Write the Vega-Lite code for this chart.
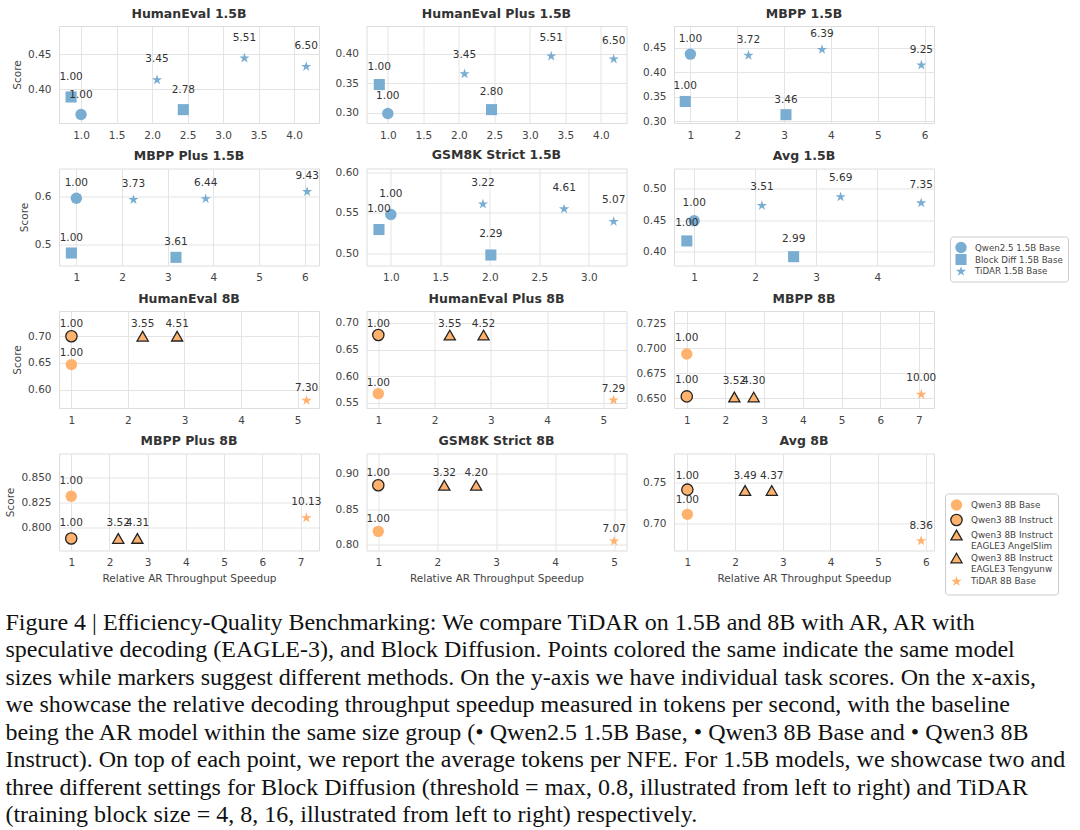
{
  "$schema": "https://vega.github.io/schema/vega-lite/v6.json",
  "padding": {"left": 5, "top": 7, "right": 5, "bottom": 3},
  "background": "white",
  "datasets": {
    "d": [
      {"panel": "HumanEval 1.5B", "method": "Qwen2.5 1.5B Base", "x": 1.0, "y": 0.364, "label": "1.00"},
      {"panel": "HumanEval 1.5B", "method": "Block Diff 1.5B Base", "x": 0.86, "y": 0.389, "label": "1.00"},
      {"panel": "HumanEval 1.5B", "method": "Block Diff 1.5B Base", "x": 2.44, "y": 0.371, "label": "2.78"},
      {"panel": "HumanEval 1.5B", "method": "TiDAR 1.5B Base", "x": 2.07, "y": 0.414, "label": "3.45"},
      {"panel": "HumanEval 1.5B", "method": "TiDAR 1.5B Base", "x": 3.30, "y": 0.445, "label": "5.51"},
      {"panel": "HumanEval 1.5B", "method": "TiDAR 1.5B Base", "x": 4.17, "y": 0.433, "label": "6.50"},

      {"panel": "HumanEval Plus 1.5B", "method": "Qwen2.5 1.5B Base", "x": 1.0, "y": 0.299, "label": "1.00"},
      {"panel": "HumanEval Plus 1.5B", "method": "Block Diff 1.5B Base", "x": 0.88, "y": 0.348, "label": "1.00"},
      {"panel": "HumanEval Plus 1.5B", "method": "Block Diff 1.5B Base", "x": 2.46, "y": 0.3056, "label": "2.80"},
      {"panel": "HumanEval Plus 1.5B", "method": "TiDAR 1.5B Base", "x": 2.08, "y": 0.367, "label": "3.45"},
      {"panel": "HumanEval Plus 1.5B", "method": "TiDAR 1.5B Base", "x": 3.30, "y": 0.397, "label": "5.51"},
      {"panel": "HumanEval Plus 1.5B", "method": "TiDAR 1.5B Base", "x": 4.18, "y": 0.392, "label": "6.50"},

      {"panel": "MBPP 1.5B", "method": "Qwen2.5 1.5B Base", "x": 1.0, "y": 0.4366, "label": "1.00"},
      {"panel": "MBPP 1.5B", "method": "Block Diff 1.5B Base", "x": 0.89, "y": 0.340, "label": "1.00"},
      {"panel": "MBPP 1.5B", "method": "Block Diff 1.5B Base", "x": 3.04, "y": 0.313, "label": "3.46"},
      {"panel": "MBPP 1.5B", "method": "TiDAR 1.5B Base", "x": 2.24, "y": 0.435, "label": "3.72"},
      {"panel": "MBPP 1.5B", "method": "TiDAR 1.5B Base", "x": 3.81, "y": 0.447, "label": "6.39"},
      {"panel": "MBPP 1.5B", "method": "TiDAR 1.5B Base", "x": 5.93, "y": 0.415, "label": "9.25"},

      {"panel": "MBPP Plus 1.5B", "method": "Qwen2.5 1.5B Base", "x": 1.0, "y": 0.597, "label": "1.00"},
      {"panel": "MBPP Plus 1.5B", "method": "Block Diff 1.5B Base", "x": 0.89, "y": 0.483, "label": "1.00"},
      {"panel": "MBPP Plus 1.5B", "method": "Block Diff 1.5B Base", "x": 3.18, "y": 0.474, "label": "3.61"},
      {"panel": "MBPP Plus 1.5B", "method": "TiDAR 1.5B Base", "x": 2.25, "y": 0.595, "label": "3.73"},
      {"panel": "MBPP Plus 1.5B", "method": "TiDAR 1.5B Base", "x": 3.83, "y": 0.597, "label": "6.44"},
      {"panel": "MBPP Plus 1.5B", "method": "TiDAR 1.5B Base", "x": 6.05, "y": 0.612, "label": "9.43"},

      {"panel": "GSM8K Strict 1.5B", "method": "Qwen2.5 1.5B Base", "x": 1.0, "y": 0.548, "label": "1.00"},
      {"panel": "GSM8K Strict 1.5B", "method": "Block Diff 1.5B Base", "x": 0.88, "y": 0.5295, "label": "1.00"},
      {"panel": "GSM8K Strict 1.5B", "method": "Block Diff 1.5B Base", "x": 2.01, "y": 0.498, "label": "2.29"},
      {"panel": "GSM8K Strict 1.5B", "method": "TiDAR 1.5B Base", "x": 1.93, "y": 0.5615, "label": "3.22"},
      {"panel": "GSM8K Strict 1.5B", "method": "TiDAR 1.5B Base", "x": 2.75, "y": 0.5555, "label": "4.61"},
      {"panel": "GSM8K Strict 1.5B", "method": "TiDAR 1.5B Base", "x": 3.25, "y": 0.540, "label": "5.07"},

      {"panel": "Avg 1.5B", "method": "Qwen2.5 1.5B Base", "x": 1.0, "y": 0.449, "label": "1.00"},
      {"panel": "Avg 1.5B", "method": "Block Diff 1.5B Base", "x": 0.88, "y": 0.417, "label": "1.00"},
      {"panel": "Avg 1.5B", "method": "Block Diff 1.5B Base", "x": 2.63, "y": 0.392, "label": "2.99"},
      {"panel": "Avg 1.5B", "method": "TiDAR 1.5B Base", "x": 2.11, "y": 0.474, "label": "3.51"},
      {"panel": "Avg 1.5B", "method": "TiDAR 1.5B Base", "x": 3.40, "y": 0.4876, "label": "5.69"},
      {"panel": "Avg 1.5B", "method": "TiDAR 1.5B Base", "x": 4.72, "y": 0.478, "label": "7.35"},

      {"panel": "HumanEval 8B", "method": "Qwen3 8B Base", "x": 1.0, "y": 0.647, "label": "1.00"},
      {"panel": "HumanEval 8B", "method": "Qwen3 8B Instruct", "x": 1.0, "y": 0.700, "label": "1.00"},
      {"panel": "HumanEval 8B", "method": "Qwen3 8B Instruct EAGLE3 AngelSlim", "x": 2.26, "y": 0.700, "label": "3.55"},
      {"panel": "HumanEval 8B", "method": "Qwen3 8B Instruct EAGLE3 Tengyunw", "x": 2.87, "y": 0.700, "label": "4.51"},
      {"panel": "HumanEval 8B", "method": "TiDAR 8B Base", "x": 5.16, "y": 0.581, "label": "7.30"},

      {"panel": "HumanEval Plus 8B", "method": "Qwen3 8B Base", "x": 1.0, "y": 0.5675, "label": "1.00"},
      {"panel": "HumanEval Plus 8B", "method": "Qwen3 8B Instruct", "x": 1.0, "y": 0.677, "label": "1.00"},
      {"panel": "HumanEval Plus 8B", "method": "Qwen3 8B Instruct EAGLE3 AngelSlim", "x": 2.27, "y": 0.677, "label": "3.55"},
      {"panel": "HumanEval Plus 8B", "method": "Qwen3 8B Instruct EAGLE3 Tengyunw", "x": 2.87, "y": 0.677, "label": "4.52"},
      {"panel": "HumanEval Plus 8B", "method": "TiDAR 8B Base", "x": 5.18, "y": 0.5563, "label": "7.29"},

      {"panel": "MBPP 8B", "method": "Qwen3 8B Base", "x": 1.0, "y": 0.694, "label": "1.00"},
      {"panel": "MBPP 8B", "method": "Qwen3 8B Instruct", "x": 1.0, "y": 0.6516, "label": "1.00"},
      {"panel": "MBPP 8B", "method": "Qwen3 8B Instruct EAGLE3 AngelSlim", "x": 2.23, "y": 0.651, "label": "3.52"},
      {"panel": "MBPP 8B", "method": "Qwen3 8B Instruct EAGLE3 Tengyunw", "x": 2.73, "y": 0.651, "label": "4.30"},
      {"panel": "MBPP 8B", "method": "TiDAR 8B Base", "x": 7.06, "y": 0.654, "label": "10.00"},

      {"panel": "MBPP Plus 8B", "method": "Qwen3 8B Base", "x": 1.0, "y": 0.831, "label": "1.00"},
      {"panel": "MBPP Plus 8B", "method": "Qwen3 8B Instruct", "x": 1.0, "y": 0.789, "label": "1.00"},
      {"panel": "MBPP Plus 8B", "method": "Qwen3 8B Instruct EAGLE3 AngelSlim", "x": 2.23, "y": 0.789, "label": "3.52"},
      {"panel": "MBPP Plus 8B", "method": "Qwen3 8B Instruct EAGLE3 Tengyunw", "x": 2.73, "y": 0.789, "label": "4.31"},
      {"panel": "MBPP Plus 8B", "method": "TiDAR 8B Base", "x": 7.15, "y": 0.810, "label": "10.13"},

      {"panel": "GSM8K Strict 8B", "method": "Qwen3 8B Base", "x": 1.0, "y": 0.8187, "label": "1.00"},
      {"panel": "GSM8K Strict 8B", "method": "Qwen3 8B Instruct", "x": 1.0, "y": 0.884, "label": "1.00"},
      {"panel": "GSM8K Strict 8B", "method": "Qwen3 8B Instruct EAGLE3 AngelSlim", "x": 2.12, "y": 0.884, "label": "3.32"},
      {"panel": "GSM8K Strict 8B", "method": "Qwen3 8B Instruct EAGLE3 Tengyunw", "x": 2.66, "y": 0.884, "label": "4.20"},
      {"panel": "GSM8K Strict 8B", "method": "TiDAR 8B Base", "x": 5.0, "y": 0.8056, "label": "7.07"},

      {"panel": "Avg 8B", "method": "Qwen3 8B Base", "x": 1.0, "y": 0.711, "label": "1.00"},
      {"panel": "Avg 8B", "method": "Qwen3 8B Instruct", "x": 1.0, "y": 0.741, "label": "1.00"},
      {"panel": "Avg 8B", "method": "Qwen3 8B Instruct EAGLE3 AngelSlim", "x": 2.21, "y": 0.740, "label": "3.49"},
      {"panel": "Avg 8B", "method": "Qwen3 8B Instruct EAGLE3 Tengyunw", "x": 2.77, "y": 0.740, "label": "4.37"},
      {"panel": "Avg 8B", "method": "TiDAR 8B Base", "x": 5.90, "y": 0.6794, "label": "8.36"}
    ]
  },
  "data": {"name": "d"},
  "title": {
    "text": [
      "Figure 4 | Efficiency-Quality Benchmarking: We compare TiDAR on 1.5B and 8B with AR, AR with",
      "speculative decoding (EAGLE-3), and Block Diffusion. Points colored the same indicate the same model",
      "sizes while markers suggest different methods. On the y-axis we have individual task scores. On the x-axis,",
      "we showcase the relative decoding throughput speedup measured in tokens per second, with the baseline",
      "being the AR model within the same size group (• Qwen2.5 1.5B Base, • Qwen3 8B Base and • Qwen3 8B",
      "Instruct). On top of each point, we report the average tokens per NFE. For 1.5B models, we showcase two and",
      "three different settings for Block Diffusion (threshold = max, 0.8, illustrated from left to right) and TiDAR",
      "(training block size = 4, 8, 16, illustrated from left to right) respectively."
    ],
    "orient": "bottom",
    "anchor": "start",
    "font": "Liberation Serif",
    "fontSize": 24,
    "fontWeight": "normal",
    "color": "#111111",
    "lineHeight": 27.5,
    "offset": 15
  },
  "columns": 3,
  "spacing": {"row": 45.5, "column": 47.5},
  "bounds": "flush",
  "concat": [
        {
          "title": "HumanEval 1.5B", "width": 260, "height": 97,
          "transform": [{"filter": "datum.panel == 'HumanEval 1.5B'"}],
          "layer": [
            {"mark": {"type": "point", "filled": true, "opacity": 1, "strokeWidth": 0},
             "encoding": {
               "x": {"field": "x", "type": "quantitative", "scale": {"domain": [0.69, 4.35], "nice": false, "zero": false}, "axis": {"values": [1, 1.5, 2, 2.5, 3, 3.5, 4], "format": ".1f", "title": null, "tickCount": 20}},
               "y": {"field": "y", "type": "quantitative", "scale": {"domain": [0.352, 0.49], "nice": false, "zero": false}, "axis": {"values": [0.40, 0.45], "format": ".2f", "title": "Score", "tickCount": 20}},
               "color": {"field": "method", "type": "nominal", "scale": {"domain": ["Qwen2.5 1.5B Base", "Block Diff 1.5B Base", "TiDAR 1.5B Base"], "range": ["#79add2", "#79add2", "#79add2"]}, "legend": null},
               "shape": {"field": "method", "type": "nominal", "scale": {"domain": ["Qwen2.5 1.5B Base", "Block Diff 1.5B Base", "TiDAR 1.5B Base"], "range": ["circle", "square", "M0,-0.905L0.2245,-0.214L0.9511,-0.214L0.3633,0.213L0.5878,0.904L0,0.477L-0.5878,0.904L-0.3633,0.213L-0.9511,-0.214L-0.2245,-0.214Z"]}, "legend": null},
               "size": {"field": "method", "type": "nominal", "scale": {"domain": ["Qwen2.5 1.5B Base", "Block Diff 1.5B Base", "TiDAR 1.5B Base"], "range": [130, 115, 230]}, "legend": null}
             }},
            {"mark": {"type": "text", "dy": -20, "fontSize": 10.5, "font": "DejaVu Sans", "color": "#333333", "baseline": "middle"},
             "encoding": {"x": {"field": "x", "type": "quantitative"}, "y": {"field": "y", "type": "quantitative"}, "text": {"field": "label"}}}
          ]
        },
        {
          "title": "HumanEval Plus 1.5B", "width": 260, "height": 97,
          "transform": [{"filter": "datum.panel == 'HumanEval Plus 1.5B'"}],
          "layer": [
            {"mark": {"type": "point", "filled": true, "opacity": 1, "strokeWidth": 0},
             "encoding": {
               "x": {"field": "x", "type": "quantitative", "scale": {"domain": [0.70, 4.36], "nice": false, "zero": false}, "axis": {"values": [1, 1.5, 2, 2.5, 3, 3.5, 4], "format": ".1f", "title": null, "tickCount": 20}},
               "y": {"field": "y", "type": "quantitative", "scale": {"domain": [0.283, 0.447], "nice": false, "zero": false}, "axis": {"values": [0.30, 0.35, 0.40], "format": ".2f", "title": null, "tickCount": 20}},
               "color": {"field": "method", "type": "nominal", "scale": {"domain": ["Qwen2.5 1.5B Base", "Block Diff 1.5B Base", "TiDAR 1.5B Base"], "range": ["#79add2", "#79add2", "#79add2"]}, "legend": null},
               "shape": {"field": "method", "type": "nominal", "scale": {"domain": ["Qwen2.5 1.5B Base", "Block Diff 1.5B Base", "TiDAR 1.5B Base"], "range": ["circle", "square", "M0,-0.905L0.2245,-0.214L0.9511,-0.214L0.3633,0.213L0.5878,0.904L0,0.477L-0.5878,0.904L-0.3633,0.213L-0.9511,-0.214L-0.2245,-0.214Z"]}, "legend": null},
               "size": {"field": "method", "type": "nominal", "scale": {"domain": ["Qwen2.5 1.5B Base", "Block Diff 1.5B Base", "TiDAR 1.5B Base"], "range": [130, 115, 230]}, "legend": null}
             }},
            {"mark": {"type": "text", "dy": -18, "fontSize": 10.5, "font": "DejaVu Sans", "color": "#333333", "baseline": "middle"},
             "encoding": {"x": {"field": "x", "type": "quantitative"}, "y": {"field": "y", "type": "quantitative"}, "text": {"field": "label"}}}
          ]
        },
        {
          "title": "MBPP 1.5B", "width": 260, "height": 97,
          "transform": [{"filter": "datum.panel == 'MBPP 1.5B'"}],
          "layer": [
            {"mark": {"type": "point", "filled": true, "opacity": 1, "strokeWidth": 0},
             "encoding": {
               "x": {"field": "x", "type": "quantitative", "scale": {"domain": [0.65, 6.2], "nice": false, "zero": false}, "axis": {"values": [1, 2, 3, 4, 5, 6], "format": "d", "title": null, "tickCount": 20}},
               "y": {"field": "y", "type": "quantitative", "scale": {"domain": [0.296, 0.494], "nice": false, "zero": false}, "axis": {"values": [0.30, 0.35, 0.40, 0.45], "format": ".2f", "title": null, "tickCount": 20}},
               "color": {"field": "method", "type": "nominal", "scale": {"domain": ["Qwen2.5 1.5B Base", "Block Diff 1.5B Base", "TiDAR 1.5B Base"], "range": ["#79add2", "#79add2", "#79add2"]}, "legend": null},
               "shape": {"field": "method", "type": "nominal", "scale": {"domain": ["Qwen2.5 1.5B Base", "Block Diff 1.5B Base", "TiDAR 1.5B Base"], "range": ["circle", "square", "M0,-0.905L0.2245,-0.214L0.9511,-0.214L0.3633,0.213L0.5878,0.904L0,0.477L-0.5878,0.904L-0.3633,0.213L-0.9511,-0.214L-0.2245,-0.214Z"]}, "legend": null},
               "size": {"field": "method", "type": "nominal", "scale": {"domain": ["Qwen2.5 1.5B Base", "Block Diff 1.5B Base", "TiDAR 1.5B Base"], "range": [130, 115, 230]}, "legend": null}
             }},
            {"mark": {"type": "text", "dy": -15, "fontSize": 10.5, "font": "DejaVu Sans", "color": "#333333", "baseline": "middle"},
             "encoding": {"x": {"field": "x", "type": "quantitative"}, "y": {"field": "y", "type": "quantitative"}, "text": {"field": "label"}}}
          ]
        },
        {
          "title": "MBPP Plus 1.5B", "width": 260, "height": 97,
          "transform": [{"filter": "datum.panel == 'MBPP Plus 1.5B'"}],
          "layer": [
            {"mark": {"type": "point", "filled": true, "opacity": 1, "strokeWidth": 0},
             "encoding": {
               "x": {"field": "x", "type": "quantitative", "scale": {"domain": [0.62, 6.31], "nice": false, "zero": false}, "axis": {"values": [1, 2, 3, 4, 5, 6], "format": "d", "title": null, "tickCount": 20}},
               "y": {"field": "y", "type": "quantitative", "scale": {"domain": [0.457, 0.659], "nice": false, "zero": false}, "axis": {"values": [0.5, 0.6], "format": ".1f", "title": "Score", "tickCount": 20}},
               "color": {"field": "method", "type": "nominal", "scale": {"domain": ["Qwen2.5 1.5B Base", "Block Diff 1.5B Base", "TiDAR 1.5B Base"], "range": ["#79add2", "#79add2", "#79add2"]}, "legend": null},
               "shape": {"field": "method", "type": "nominal", "scale": {"domain": ["Qwen2.5 1.5B Base", "Block Diff 1.5B Base", "TiDAR 1.5B Base"], "range": ["circle", "square", "M0,-0.905L0.2245,-0.214L0.9511,-0.214L0.3633,0.213L0.5878,0.904L0,0.477L-0.5878,0.904L-0.3633,0.213L-0.9511,-0.214L-0.2245,-0.214Z"]}, "legend": null},
               "size": {"field": "method", "type": "nominal", "scale": {"domain": ["Qwen2.5 1.5B Base", "Block Diff 1.5B Base", "TiDAR 1.5B Base"], "range": [130, 115, 230]}, "legend": null}
             }},
            {"mark": {"type": "text", "dy": -15, "fontSize": 10.5, "font": "DejaVu Sans", "color": "#333333", "baseline": "middle"},
             "encoding": {"x": {"field": "x", "type": "quantitative"}, "y": {"field": "y", "type": "quantitative"}, "text": {"field": "label"}}}
          ]
        },
        {
          "title": "GSM8K Strict 1.5B", "width": 260, "height": 97,
          "transform": [{"filter": "datum.panel == 'GSM8K Strict 1.5B'"}],
          "layer": [
            {"mark": {"type": "point", "filled": true, "opacity": 1, "strokeWidth": 0},
             "encoding": {
               "x": {"field": "x", "type": "quantitative", "scale": {"domain": [0.754, 3.38], "nice": false, "zero": false}, "axis": {"values": [1, 1.5, 2, 2.5, 3], "format": ".1f", "title": null, "tickCount": 20}},
               "y": {"field": "y", "type": "quantitative", "scale": {"domain": [0.485, 0.605], "nice": false, "zero": false}, "axis": {"values": [0.50, 0.55, 0.60], "format": ".2f", "title": null, "tickCount": 20}},
               "color": {"field": "method", "type": "nominal", "scale": {"domain": ["Qwen2.5 1.5B Base", "Block Diff 1.5B Base", "TiDAR 1.5B Base"], "range": ["#79add2", "#79add2", "#79add2"]}, "legend": null},
               "shape": {"field": "method", "type": "nominal", "scale": {"domain": ["Qwen2.5 1.5B Base", "Block Diff 1.5B Base", "TiDAR 1.5B Base"], "range": ["circle", "square", "M0,-0.905L0.2245,-0.214L0.9511,-0.214L0.3633,0.213L0.5878,0.904L0,0.477L-0.5878,0.904L-0.3633,0.213L-0.9511,-0.214L-0.2245,-0.214Z"]}, "legend": null},
               "size": {"field": "method", "type": "nominal", "scale": {"domain": ["Qwen2.5 1.5B Base", "Block Diff 1.5B Base", "TiDAR 1.5B Base"], "range": [130, 115, 230]}, "legend": null}
             }},
            {"mark": {"type": "text", "dy": -21, "fontSize": 10.5, "font": "DejaVu Sans", "color": "#333333", "baseline": "middle"},
             "encoding": {"x": {"field": "x", "type": "quantitative"}, "y": {"field": "y", "type": "quantitative"}, "text": {"field": "label"}}}
          ]
        },
        {
          "title": "Avg 1.5B", "width": 260, "height": 97,
          "transform": [{"filter": "datum.panel == 'Avg 1.5B'"}],
          "layer": [
            {"mark": {"type": "point", "filled": true, "opacity": 1, "strokeWidth": 0},
             "encoding": {
               "x": {"field": "x", "type": "quantitative", "scale": {"domain": [0.67, 4.93], "nice": false, "zero": false}, "axis": {"values": [1, 2, 3, 4], "format": "d", "title": null, "tickCount": 20}},
               "y": {"field": "y", "type": "quantitative", "scale": {"domain": [0.378, 0.532], "nice": false, "zero": false}, "axis": {"values": [0.40, 0.45, 0.50], "format": ".2f", "title": null, "tickCount": 20}},
               "color": {"field": "method", "type": "nominal", "scale": {"domain": ["Qwen2.5 1.5B Base", "Block Diff 1.5B Base", "TiDAR 1.5B Base"], "range": ["#79add2", "#79add2", "#79add2"]}},
               "shape": {"field": "method", "type": "nominal", "scale": {"domain": ["Qwen2.5 1.5B Base", "Block Diff 1.5B Base", "TiDAR 1.5B Base"], "range": ["circle", "square", "M0,-0.905L0.2245,-0.214L0.9511,-0.214L0.3633,0.213L0.5878,0.904L0,0.477L-0.5878,0.904L-0.3633,0.213L-0.9511,-0.214L-0.2245,-0.214Z"]},
                         "legend": {"orient": "none", "legendX": 276, "legendY": 68, "title": null, "strokeColor": "#cccccc", "cornerRadius": 3, "padding": 5, "fillColor": "white", "labelFont": "DejaVu Sans", "labelFontSize": 8.7, "labelColor": "#444444", "rowPadding": -1, "symbolStrokeWidth": 0, "labelOffset": 8}},
               "size": {"field": "method", "type": "nominal", "scale": {"domain": ["Qwen2.5 1.5B Base", "Block Diff 1.5B Base", "TiDAR 1.5B Base"], "range": [130, 115, 230]}}
             }},
            {"mark": {"type": "text", "dy": -18, "fontSize": 10.5, "font": "DejaVu Sans", "color": "#333333", "baseline": "middle"},
             "encoding": {"x": {"field": "x", "type": "quantitative"}, "y": {"field": "y", "type": "quantitative"}, "text": {"field": "label"}}}
          ]
        },
        {
          "title": "HumanEval 8B", "width": 260, "height": 97,
          "transform": [{"filter": "datum.panel == 'HumanEval 8B'"}],
          "layer": [
            {"mark": {"type": "point", "filled": true, "opacity": 1, "strokeWidth": 1.3},
             "encoding": {
               "x": {"field": "x", "type": "quantitative", "scale": {"domain": [0.78, 5.38], "nice": false, "zero": false}, "axis": {"values": [1, 2, 3, 4, 5], "format": "d", "title": null, "tickCount": 20}},
               "y": {"field": "y", "type": "quantitative", "scale": {"domain": [0.566, 0.747], "nice": false, "zero": false}, "axis": {"values": [0.60, 0.65, 0.70], "format": ".2f", "title": "Score", "tickCount": 20}},
               "color": {"field": "method", "type": "nominal", "scale": {"domain": ["Qwen3 8B Base", "Qwen3 8B Instruct", "Qwen3 8B Instruct EAGLE3 AngelSlim", "Qwen3 8B Instruct EAGLE3 Tengyunw", "TiDAR 8B Base"], "range": ["#ffb26e", "#ffb26e", "#ffb26e", "#ffb26e", "#ffb26e"]}, "legend": null},
               "stroke": {"field": "method", "type": "nominal", "scale": {"domain": ["Qwen3 8B Base", "Qwen3 8B Instruct", "Qwen3 8B Instruct EAGLE3 AngelSlim", "Qwen3 8B Instruct EAGLE3 Tengyunw", "TiDAR 8B Base"], "range": ["transparent", "#222222", "#222222", "#222222", "transparent"]}, "legend": null},
               "shape": {"field": "method", "type": "nominal", "scale": {"domain": ["Qwen3 8B Base", "Qwen3 8B Instruct", "Qwen3 8B Instruct EAGLE3 AngelSlim", "Qwen3 8B Instruct EAGLE3 Tengyunw", "TiDAR 8B Base"], "range": ["circle", "circle", "triangle-up", "triangle-up", "M0,-0.905L0.2245,-0.214L0.9511,-0.214L0.3633,0.213L0.5878,0.904L0,0.477L-0.5878,0.904L-0.3633,0.213L-0.9511,-0.214L-0.2245,-0.214Z"]}, "legend": null},
               "size": {"field": "method", "type": "nominal", "scale": {"domain": ["Qwen3 8B Base", "Qwen3 8B Instruct", "Qwen3 8B Instruct EAGLE3 AngelSlim", "Qwen3 8B Instruct EAGLE3 Tengyunw", "TiDAR 8B Base"], "range": [130, 120, 150, 150, 230]}, "legend": null}
             }},
            {"mark": {"type": "text", "dy": -12, "fontSize": 10.5, "font": "DejaVu Sans", "color": "#333333", "baseline": "middle"},
             "encoding": {"x": {"field": "x", "type": "quantitative"}, "y": {"field": "y", "type": "quantitative"}, "text": {"field": "label"}}}
          ]
        },
        {
          "title": "HumanEval Plus 8B", "width": 260, "height": 97,
          "transform": [{"filter": "datum.panel == 'HumanEval Plus 8B'"}],
          "layer": [
            {"mark": {"type": "point", "filled": true, "opacity": 1, "strokeWidth": 1.3},
             "encoding": {
               "x": {"field": "x", "type": "quantitative", "scale": {"domain": [0.79, 5.41], "nice": false, "zero": false}, "axis": {"values": [1, 2, 3, 4, 5], "format": "d", "title": null, "tickCount": 20}},
               "y": {"field": "y", "type": "quantitative", "scale": {"domain": [0.5406, 0.722], "nice": false, "zero": false}, "axis": {"values": [0.55, 0.60, 0.65, 0.70], "format": ".2f", "title": null, "tickCount": 20}},
               "color": {"field": "method", "type": "nominal", "scale": {"domain": ["Qwen3 8B Base", "Qwen3 8B Instruct", "Qwen3 8B Instruct EAGLE3 AngelSlim", "Qwen3 8B Instruct EAGLE3 Tengyunw", "TiDAR 8B Base"], "range": ["#ffb26e", "#ffb26e", "#ffb26e", "#ffb26e", "#ffb26e"]}, "legend": null},
               "stroke": {"field": "method", "type": "nominal", "scale": {"domain": ["Qwen3 8B Base", "Qwen3 8B Instruct", "Qwen3 8B Instruct EAGLE3 AngelSlim", "Qwen3 8B Instruct EAGLE3 Tengyunw", "TiDAR 8B Base"], "range": ["transparent", "#222222", "#222222", "#222222", "transparent"]}, "legend": null},
               "shape": {"field": "method", "type": "nominal", "scale": {"domain": ["Qwen3 8B Base", "Qwen3 8B Instruct", "Qwen3 8B Instruct EAGLE3 AngelSlim", "Qwen3 8B Instruct EAGLE3 Tengyunw", "TiDAR 8B Base"], "range": ["circle", "circle", "triangle-up", "triangle-up", "M0,-0.905L0.2245,-0.214L0.9511,-0.214L0.3633,0.213L0.5878,0.904L0,0.477L-0.5878,0.904L-0.3633,0.213L-0.9511,-0.214L-0.2245,-0.214Z"]}, "legend": null},
               "size": {"field": "method", "type": "nominal", "scale": {"domain": ["Qwen3 8B Base", "Qwen3 8B Instruct", "Qwen3 8B Instruct EAGLE3 AngelSlim", "Qwen3 8B Instruct EAGLE3 Tengyunw", "TiDAR 8B Base"], "range": [130, 120, 150, 150, 230]}, "legend": null}
             }},
            {"mark": {"type": "text", "dy": -11, "fontSize": 10.5, "font": "DejaVu Sans", "color": "#333333", "baseline": "middle"},
             "encoding": {"x": {"field": "x", "type": "quantitative"}, "y": {"field": "y", "type": "quantitative"}, "text": {"field": "label"}}}
          ]
        },
        {
          "title": "MBPP 8B", "width": 260, "height": 97,
          "transform": [{"filter": "datum.panel == 'MBPP 8B'"}],
          "layer": [
            {"mark": {"type": "point", "filled": true, "opacity": 1, "strokeWidth": 1.3},
             "encoding": {
               "x": {"field": "x", "type": "quantitative", "scale": {"domain": [0.67, 7.39], "nice": false, "zero": false}, "axis": {"values": [1, 2, 3, 4, 5, 6, 7], "format": "d", "title": null, "tickCount": 20}},
               "y": {"field": "y", "type": "quantitative", "scale": {"domain": [0.640, 0.737], "nice": false, "zero": false}, "axis": {"values": [0.650, 0.675, 0.700, 0.725], "format": ".3f", "title": null, "tickCount": 20}},
               "color": {"field": "method", "type": "nominal", "scale": {"domain": ["Qwen3 8B Base", "Qwen3 8B Instruct", "Qwen3 8B Instruct EAGLE3 AngelSlim", "Qwen3 8B Instruct EAGLE3 Tengyunw", "TiDAR 8B Base"], "range": ["#ffb26e", "#ffb26e", "#ffb26e", "#ffb26e", "#ffb26e"]}, "legend": null},
               "stroke": {"field": "method", "type": "nominal", "scale": {"domain": ["Qwen3 8B Base", "Qwen3 8B Instruct", "Qwen3 8B Instruct EAGLE3 AngelSlim", "Qwen3 8B Instruct EAGLE3 Tengyunw", "TiDAR 8B Base"], "range": ["transparent", "#222222", "#222222", "#222222", "transparent"]}, "legend": null},
               "shape": {"field": "method", "type": "nominal", "scale": {"domain": ["Qwen3 8B Base", "Qwen3 8B Instruct", "Qwen3 8B Instruct EAGLE3 AngelSlim", "Qwen3 8B Instruct EAGLE3 Tengyunw", "TiDAR 8B Base"], "range": ["circle", "circle", "triangle-up", "triangle-up", "M0,-0.905L0.2245,-0.214L0.9511,-0.214L0.3633,0.213L0.5878,0.904L0,0.477L-0.5878,0.904L-0.3633,0.213L-0.9511,-0.214L-0.2245,-0.214Z"]}, "legend": null},
               "size": {"field": "method", "type": "nominal", "scale": {"domain": ["Qwen3 8B Base", "Qwen3 8B Instruct", "Qwen3 8B Instruct EAGLE3 AngelSlim", "Qwen3 8B Instruct EAGLE3 Tengyunw", "TiDAR 8B Base"], "range": [130, 120, 150, 150, 230]}, "legend": null}
             }},
            {"mark": {"type": "text", "dy": -16, "fontSize": 10.5, "font": "DejaVu Sans", "color": "#333333", "baseline": "middle"},
             "encoding": {"x": {"field": "x", "type": "quantitative"}, "y": {"field": "y", "type": "quantitative"}, "text": {"field": "label"}}}
          ]
        },
        {
          "title": "MBPP Plus 8B", "width": 260, "height": 97,
          "transform": [{"filter": "datum.panel == 'MBPP Plus 8B'"}],
          "layer": [
            {"mark": {"type": "point", "filled": true, "opacity": 1, "strokeWidth": 1.3},
             "encoding": {
               "x": {"field": "x", "type": "quantitative", "scale": {"domain": [0.68, 7.48], "nice": false, "zero": false}, "axis": {"values": [1, 2, 3, 4, 5, 6, 7], "format": "d", "title": "Relative AR Throughput Speedup", "tickCount": 20}},
               "y": {"field": "y", "type": "quantitative", "scale": {"domain": [0.777, 0.8735], "nice": false, "zero": false}, "axis": {"values": [0.800, 0.825, 0.850], "format": ".3f", "title": "Score", "tickCount": 20}},
               "color": {"field": "method", "type": "nominal", "scale": {"domain": ["Qwen3 8B Base", "Qwen3 8B Instruct", "Qwen3 8B Instruct EAGLE3 AngelSlim", "Qwen3 8B Instruct EAGLE3 Tengyunw", "TiDAR 8B Base"], "range": ["#ffb26e", "#ffb26e", "#ffb26e", "#ffb26e", "#ffb26e"]}, "legend": null},
               "stroke": {"field": "method", "type": "nominal", "scale": {"domain": ["Qwen3 8B Base", "Qwen3 8B Instruct", "Qwen3 8B Instruct EAGLE3 AngelSlim", "Qwen3 8B Instruct EAGLE3 Tengyunw", "TiDAR 8B Base"], "range": ["transparent", "#222222", "#222222", "#222222", "transparent"]}, "legend": null},
               "shape": {"field": "method", "type": "nominal", "scale": {"domain": ["Qwen3 8B Base", "Qwen3 8B Instruct", "Qwen3 8B Instruct EAGLE3 AngelSlim", "Qwen3 8B Instruct EAGLE3 Tengyunw", "TiDAR 8B Base"], "range": ["circle", "circle", "triangle-up", "triangle-up", "M0,-0.905L0.2245,-0.214L0.9511,-0.214L0.3633,0.213L0.5878,0.904L0,0.477L-0.5878,0.904L-0.3633,0.213L-0.9511,-0.214L-0.2245,-0.214Z"]}, "legend": null},
               "size": {"field": "method", "type": "nominal", "scale": {"domain": ["Qwen3 8B Base", "Qwen3 8B Instruct", "Qwen3 8B Instruct EAGLE3 AngelSlim", "Qwen3 8B Instruct EAGLE3 Tengyunw", "TiDAR 8B Base"], "range": [130, 120, 150, 150, 230]}, "legend": null}
             }},
            {"mark": {"type": "text", "dy": -15, "fontSize": 10.5, "font": "DejaVu Sans", "color": "#333333", "baseline": "middle"},
             "encoding": {"x": {"field": "x", "type": "quantitative"}, "y": {"field": "y", "type": "quantitative"}, "text": {"field": "label"}}}
          ]
        },
        {
          "title": "GSM8K Strict 8B", "width": 260, "height": 97,
          "transform": [{"filter": "datum.panel == 'GSM8K Strict 8B'"}],
          "layer": [
            {"mark": {"type": "point", "filled": true, "opacity": 1, "strokeWidth": 1.3},
             "encoding": {
               "x": {"field": "x", "type": "quantitative", "scale": {"domain": [0.80, 5.21], "nice": false, "zero": false}, "axis": {"values": [1, 2, 3, 4, 5], "format": "d", "title": "Relative AR Throughput Speedup", "tickCount": 20}},
               "y": {"field": "y", "type": "quantitative", "scale": {"domain": [0.7916, 0.929], "nice": false, "zero": false}, "axis": {"values": [0.80, 0.85, 0.90], "format": ".2f", "title": null, "tickCount": 20}},
               "color": {"field": "method", "type": "nominal", "scale": {"domain": ["Qwen3 8B Base", "Qwen3 8B Instruct", "Qwen3 8B Instruct EAGLE3 AngelSlim", "Qwen3 8B Instruct EAGLE3 Tengyunw", "TiDAR 8B Base"], "range": ["#ffb26e", "#ffb26e", "#ffb26e", "#ffb26e", "#ffb26e"]}, "legend": null},
               "stroke": {"field": "method", "type": "nominal", "scale": {"domain": ["Qwen3 8B Base", "Qwen3 8B Instruct", "Qwen3 8B Instruct EAGLE3 AngelSlim", "Qwen3 8B Instruct EAGLE3 Tengyunw", "TiDAR 8B Base"], "range": ["transparent", "#222222", "#222222", "#222222", "transparent"]}, "legend": null},
               "shape": {"field": "method", "type": "nominal", "scale": {"domain": ["Qwen3 8B Base", "Qwen3 8B Instruct", "Qwen3 8B Instruct EAGLE3 AngelSlim", "Qwen3 8B Instruct EAGLE3 Tengyunw", "TiDAR 8B Base"], "range": ["circle", "circle", "triangle-up", "triangle-up", "M0,-0.905L0.2245,-0.214L0.9511,-0.214L0.3633,0.213L0.5878,0.904L0,0.477L-0.5878,0.904L-0.3633,0.213L-0.9511,-0.214L-0.2245,-0.214Z"]}, "legend": null},
               "size": {"field": "method", "type": "nominal", "scale": {"domain": ["Qwen3 8B Base", "Qwen3 8B Instruct", "Qwen3 8B Instruct EAGLE3 AngelSlim", "Qwen3 8B Instruct EAGLE3 Tengyunw", "TiDAR 8B Base"], "range": [130, 120, 150, 150, 230]}, "legend": null}
             }},
            {"mark": {"type": "text", "dy": -12, "fontSize": 10.5, "font": "DejaVu Sans", "color": "#333333", "baseline": "middle"},
             "encoding": {"x": {"field": "x", "type": "quantitative"}, "y": {"field": "y", "type": "quantitative"}, "text": {"field": "label"}}}
          ]
        },
        {
          "title": "Avg 8B", "width": 260, "height": 97,
          "transform": [{"filter": "datum.panel == 'Avg 8B'"}],
          "layer": [
            {"mark": {"type": "point", "filled": true, "opacity": 1, "strokeWidth": 1.3},
             "encoding": {
               "x": {"field": "x", "type": "quantitative", "scale": {"domain": [0.72, 6.17], "nice": false, "zero": false}, "axis": {"values": [1, 2, 3, 4, 5, 6], "format": "d", "title": "Relative AR Throughput Speedup", "tickCount": 20}},
               "y": {"field": "y", "type": "quantitative", "scale": {"domain": [0.667, 0.785], "nice": false, "zero": false}, "axis": {"values": [0.70, 0.75], "format": ".2f", "title": null, "tickCount": 20}},
               "color": {"field": "method", "type": "nominal", "scale": {"domain": ["Qwen3 8B Base", "Qwen3 8B Instruct", "Qwen3 8B Instruct EAGLE3 AngelSlim", "Qwen3 8B Instruct EAGLE3 Tengyunw", "TiDAR 8B Base"], "range": ["#ffb26e", "#ffb26e", "#ffb26e", "#ffb26e", "#ffb26e"]}},
               "stroke": {"field": "method", "type": "nominal", "scale": {"domain": ["Qwen3 8B Base", "Qwen3 8B Instruct", "Qwen3 8B Instruct EAGLE3 AngelSlim", "Qwen3 8B Instruct EAGLE3 Tengyunw", "TiDAR 8B Base"], "range": ["transparent", "#222222", "#222222", "#222222", "transparent"]}},
               "shape": {"field": "method", "type": "nominal", "scale": {"domain": ["Qwen3 8B Base", "Qwen3 8B Instruct", "Qwen3 8B Instruct EAGLE3 AngelSlim", "Qwen3 8B Instruct EAGLE3 Tengyunw", "TiDAR 8B Base"], "range": ["circle", "circle", "triangle-up", "triangle-up", "M0,-0.905L0.2245,-0.214L0.9511,-0.214L0.3633,0.213L0.5878,0.904L0,0.477L-0.5878,0.904L-0.3633,0.213L-0.9511,-0.214L-0.2245,-0.214Z"]},
                         "legend": {"orient": "none", "legendX": 271, "legendY": 40, "title": null, "strokeColor": "#cccccc", "cornerRadius": 3, "padding": 5, "fillColor": "white", "labelFont": "DejaVu Sans", "labelFontSize": 8.8, "labelColor": "#444444", "rowPadding": -3, "symbolStrokeWidth": 1.3, "labelOffset": 8,
                                    "labelExpr": "indexof(datum.label, 'EAGLE3') > 0 ? ['Qwen3 8B Instruct', slice(datum.label, 18)] : datum.label"}},
               "size": {"field": "method", "type": "nominal", "scale": {"domain": ["Qwen3 8B Base", "Qwen3 8B Instruct", "Qwen3 8B Instruct EAGLE3 AngelSlim", "Qwen3 8B Instruct EAGLE3 Tengyunw", "TiDAR 8B Base"], "range": [130, 120, 150, 150, 230]}}
             }},
            {"mark": {"type": "text", "dy": -14, "fontSize": 10.5, "font": "DejaVu Sans", "color": "#333333", "baseline": "middle"},
             "encoding": {"x": {"field": "x", "type": "quantitative"}, "y": {"field": "y", "type": "quantitative"}, "text": {"field": "label"}}}
          ]
        }
  ],
  "resolve": {"scale": {"x": "independent", "y": "independent", "color": "independent", "shape": "independent", "size": "independent", "stroke": "independent"}, "legend": {"color": "independent", "shape": "independent", "size": "independent", "stroke": "independent"}},
  "config": {
    "view": {"stroke": "#dddddd", "strokeWidth": 1},
    "axis": {"grid": true, "gridColor": "#e4e4e4", "gridWidth": 1, "domain": false, "ticks": false, "labelOverlap": false, "labelFont": "DejaVu Sans", "labelFontSize": 10.5, "labelColor": "#444444", "labelPadding": 7, "titleFont": "DejaVu Sans", "titleFontSize": 10.5, "titleFontWeight": "normal", "titleColor": "#444444", "titlePadding": 5},
    "axisY": {"labelPadding": 8},
    "title": {"font": "DejaVu Sans", "fontSize": 12.5, "fontWeight": "bold", "color": "#333333", "offset": 6}
  }
}
